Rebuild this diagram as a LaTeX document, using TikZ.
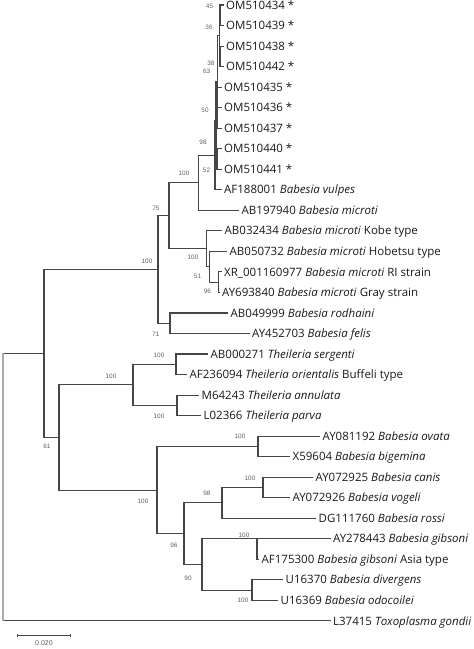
\documentclass[tikz,border=0pt]{standalone}
\usepackage{fontspec}
\setmainfont{Open Sans}
\newfontfamily\bootfont{Liberation Sans}
\usepackage{tikz}
\usetikzlibrary{arrows.meta}
\definecolor{branchgray}{RGB}{70,70,70}
\definecolor{rootgray}{RGB}{170,170,170}
\definecolor{bootgray}{RGB}{95,95,95}
\definecolor{labelblack}{RGB}{25,25,25}
\tikzset{
  branch/.style={draw=branchgray, line width=1.05pt, line cap=rect},
  rootline/.style={draw=rootgray, line width=1.6pt},
  leaf/.style={anchor=west, inner xsep=3pt, inner ysep=0pt,
    text height=8.2pt, text depth=0pt, text=labelblack,
    font=\fontsize{11.5}{13}\selectfont},
  boot/.style={inner sep=0pt, text=bootgray,
    font=\bootfont\fontsize{6.4}{7}\selectfont},
  scalebar/.style={draw=branchgray, line width=0.9pt,
    {Bar[width=3pt]}-{Bar[width=3pt]}}
}

\begin{document}
\begin{tikzpicture}[x=1pt, y=-1pt]
  \useasboundingbox (0,0) rectangle (474,649);

  % Leaves
  \node[leaf] (t01) at (223,5.0)   {OM510434 *};
  \node[leaf] (t02) at (223,25.5)  {OM510439 *};
  \node[leaf] (t03) at (223,46.1)  {OM510438 *};
  \node[leaf] (t04) at (223,66.6)  {OM510442 *};
  \node[leaf] (t05) at (221,87.1)  {OM510435 *};
  \node[leaf] (t06) at (221,107.7) {OM510436 *};
  \node[leaf] (t07) at (221,128.2) {OM510437 *};
  \node[leaf] (t08) at (221,148.7) {OM510440 *};
  \node[leaf] (t09) at (221,169.2) {OM510441 *};
  \node[leaf] (t10) at (221,189.8) {AF188001 \textit{Babesia vulpes}};
  \node[leaf] (t11) at (238.5,210.3) {AB197940 \textit{Babesia microti}};
  \node[leaf] (t12) at (221.5,230.8) {AB032434 \textit{Babesia microti} Kobe type};
  \node[leaf] (t13) at (226.5,251.4) {AB050732 \textit{Babesia microti} Hobetsu type};
  \node[leaf] (t14) at (221,271.9) {XR\_001160977 \textit{Babesia microti} RI strain};
  \node[leaf] (t15) at (219,292.4) {AY693840 \textit{Babesia microti} Gray strain};
  \node[leaf] (t16) at (227.5,313.0) {AB049999 \textit{Babesia rodhaini}};
  \node[leaf] (t17) at (249,333.5) {AY452703 \textit{Babesia felis}};
  \node[leaf] (t18) at (207.5,354.0) {AB000271 \textit{Theileria sergenti}};
  \node[leaf] (t19) at (186.5,374.5) {AF236094 \textit{Theileria orientalis} Buffeli type};
  \node[leaf] (t20) at (198.5,395.1) {M64243 \textit{Theileria annulata}};
  \node[leaf] (t21) at (200.5,415.6) {L02366 \textit{Theileria parva}};
  \node[leaf] (t22) at (319.5,436.1) {AY081192 \textit{Babesia ovata}};
  \node[leaf] (t23) at (289.5,456.7) {X59604 \textit{Babesia bigemina}};
  \node[leaf] (t24) at (312.5,477.2) {AY072925 \textit{Babesia canis}};
  \node[leaf] (t25) at (289.5,497.7) {AY072926 \textit{Babesia vogeli}};
  \node[leaf] (t26) at (315.5,518.3) {DG111760 \textit{Babesia rossi}};
  \node[leaf] (t27) at (330,538.8) {AY278443 \textit{Babesia gibsoni}};
  \node[leaf] (t28) at (258.5,559.3) {AF175300 \textit{Babesia gibsoni} Asia type};
  \node[leaf] (t29) at (282.5,579.8) {U16370 \textit{Babesia divergens}};
  \node[leaf] (t30) at (277.5,600.4) {U16369 \textit{Babesia odocoilei}};
  \node[leaf] (t31) at (330,620.9) {L37415 \textit{Toxoplasma gondii}};

  % Internal nodes
  \coordinate (n45) at (220,15.25);
  \coordinate (n38) at (220,56.35);
  \coordinate (n36) at (219.5,35.8);
  \coordinate (n63) at (217.5,82.0);
  \coordinate (n52) at (217,158.95);
  \coordinate (n50) at (216,120.5);
  \coordinate (n98) at (215,155.15);
  \coordinate (nV) at (198.5,182.7);
  \coordinate (nC) at (218.3,282.15);
  \coordinate (nB) at (209.3,266.8);
  \coordinate (nA) at (206.7,248.8);
  \coordinate (nM) at (169,215.75);
  \coordinate (nR) at (170,323.25);
  \coordinate (nP) at (158,269.5);
  \coordinate (nT1) at (176,364.25);
  \coordinate (nT2) at (177,405.35);
  \coordinate (nT) at (133,384.8);
  \coordinate (nO) at (258,446.4);
  \coordinate (nCV) at (263,487.45);
  \coordinate (nCn) at (222,502.9);
  \coordinate (nGi) at (257,538.8);
  \coordinate (nD) at (252,590.1);
  \coordinate (nG) at (202,564.45);
  \coordinate (nS2) at (184,533.7);
  \coordinate (nS) at (157,490.05);
  \coordinate (nTB) at (59,437.4);
  \coordinate (nIn) at (44,353.45);
  \coordinate (nRoot) at (3,487.2);

  % OM510 cluster
  \draw[branch] (n45) |- (t01.west) (n45) |- (t02.west);
  \draw[branch] (n38) |- (t03.west) (n38) |- (t04.west);
  \draw[branch] (n36) |- (n45) (n36) |- (n38);
  \draw[branch] (n63) |- (n36) (n63) |- (t05.west) (n63) |- (t06.west) (n63) |- (t07.west);
  \draw[branch] (n52) |- (t08.west) (n52) |- (t09.west);
  \draw[branch] (n50) |- (n63) (n50) |- (n52);
  \draw[branch] (n98) |- (n50) (n98) |- (t10.west);
  \draw[branch] (nV) |- (n98) (nV) |- (t11.west);

  % Babesia microti group
  \draw[branch] (nC) |- (t14.west) (nC) |- (t15.west);
  \draw[branch] (nB) |- (t13.west) (nB) |- (nC);
  \draw[branch] (nA) |- (t12.west) (nA) |- (nB);
  \draw[branch] (nM) |- (nV) (nM) |- (nA);
  \draw[branch] (nR) |- (t16.west) (nR) |- (t17.west);
  \draw[branch] (nP) |- (nM) (nP) |- (nR);

  % Theileria
  \draw[branch] (nT1) |- (t18.west) (nT1) |- (t19.west);
  \draw[branch] (nT2) |- (t20.west) (nT2) |- (t21.west);
  \draw[branch] (nT) |- (nT1) (nT) |- (nT2);

  % Babesia sensu stricto
  \draw[branch] (nO) |- (t22.west) (nO) |- (t23.west);
  \draw[branch] (nCV) |- (t24.west) (nCV) |- (t25.west);
  \draw[branch] (nCn) |- (nCV) (nCn) |- (t26.west);
  \draw[branch] (nG) |- (t27.west) (nGi) |- (t28.west);
  \draw[branch] (nD) |- (t29.west) (nD) |- (t30.west);
  \draw[branch] (nG) |- (nD);
  \draw[branch] (nS2) |- (nCn) (nS2) |- (nG);
  \draw[branch] (nS) |- (nO) (nS) |- (nS2);
  \draw[branch] (nTB) |- (nT) (nTB) |- (nS);
  \draw[branch] (nIn) |- (nP) (nIn) |- (nTB);
  \draw[branch] (nRoot |- nIn) -- (nIn) (nRoot |- t31.west) -- (t31.west);
  \draw[rootline] (nRoot |- nIn) -- (nRoot |- t31.west);

  % Bootstrap values
  \node[boot] (b45) at (209.5,6) {45};
  \node[boot] (b36) at (209,27.3) {36};
  \node[boot] (b38) at (211,63.3) {38};
  \node[boot] (b63) at (206.7,71) {63};
  \node[boot] (b50) at (205,110) {50};
  \node[boot] (b98) at (203,142) {98};
  \node[boot] (b52) at (206.5,170.5) {52};
  \node[boot] (bV) at (184,173) {100};
  \node[boot] (bM) at (156,208) {75};
  \node[boot] (bP) at (147,261) {100};
  \node[boot] (bA) at (193,257.5) {100};
  \node[boot] (bB) at (197.5,276) {51};
  \node[boot] (bC) at (207.5,291) {96};
  \node[boot] (bR) at (156,334) {71};
  \node[boot] (bT1) at (159,355) {100};
  \node[boot] (bT) at (111,376) {100};
  \node[boot] (bT2) at (159,416) {100};
  \node[boot] (bO) at (240,436) {100};
  \node[boot] (bTB) at (47,446) {61};
  \node[boot] (bCV) at (250,478) {100};
  \node[boot] (bCn) at (207,493) {98};
  \node[boot] (bS) at (143,501) {100};
  \node[boot] (bGi) at (244,535) {100};
  \node[boot] (bS2) at (174,545) {96};
  \node[boot] (bG) at (188,578) {90};
  \node[boot] (bD) at (243,600) {100};

  % Scale bar
  \coordinate (sbL) at (17.3,635);
  \coordinate (sbR) at (70.7,635);
  \draw[scalebar] (sbL) -- (sbR);
  \node[boot, font=\bootfont\fontsize{7}{8}\selectfont] (sbT) at (44,643.5) {0.020};
\end{tikzpicture}
\end{document}
